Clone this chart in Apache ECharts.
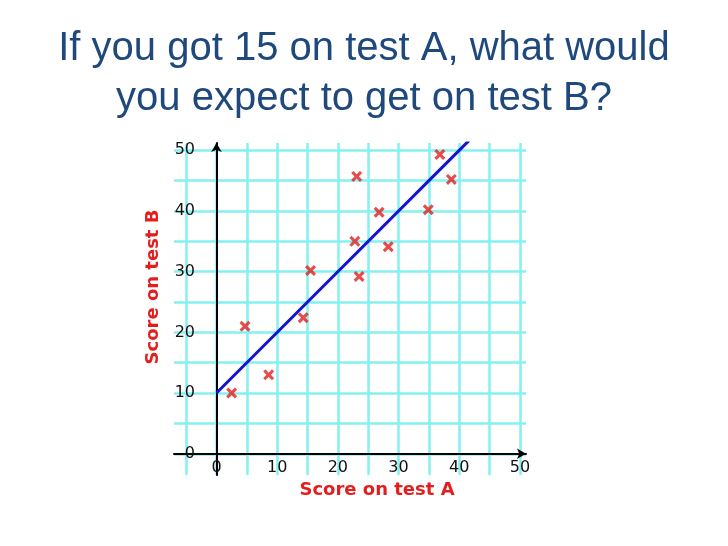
<!DOCTYPE html>
<html>
<head>
<meta charset="utf-8">
<script src="https://cdn.jsdelivr.net/npm/echarts@6/dist/echarts.min.js"></script>
<style>
html,body{margin:0;padding:0;background:#fff;}
#chart{width:728px;height:546px;}
</style>
</head>
<body>
<div id="chart"></div>
<script>
// Data
const scoreA = [2.5, 4.7, 8.6, 14.3, 15.5, 22.8, 23.1, 23.5, 26.8, 28.3, 34.9, 36.8, 38.7];
const scoreB = [10.0, 21.0, 13.0, 22.4, 30.2, 35.0, 45.7, 29.2, 39.8, 34.1, 40.2, 49.3, 45.2];
const fitLineA = [0, 41.6];
const fitLineB = [10, 51.6];
const tickLabels = [0, 10, 20, 30, 40, 50];
const gridX = [-5, 0, 5, 10, 15, 20, 25, 30, 35, 40, 45, 50];
const gridY = [0, 5, 10, 15, 20, 25, 30, 35, 40, 45, 50];

const points = scoreA.map((a, i) => [a, scoreB[i]]);
const fit = fitLineA.map((a, i) => [a, fitLineB[i]]);

const labelFont = 'DejaVu Sans';
const gridColor = '#84F0F0';
const redColor = '#E21E1E';

const chart = echarts.init(document.getElementById('chart'));
chart.setOption({
  animation: false,
  backgroundColor: '#ffffff',
  title: {
    text: 'If you got 15 on test A, what would\nyou expect to get on test B?',
    left: 'center',
    top: 19,
    textStyle: {
      fontFamily: 'Liberation Sans, Arial, sans-serif',
      fontSize: 40,
      fontWeight: 'normal',
      lineHeight: 50,
      color: '#1F497D',
      align: 'center'
    }
  },
  grid: { left: 174, top: 143, width: 352, height: 332 },
  xAxis: {
    type: 'value',
    min: -7, max: 51,
    z: 5,
    splitLine: { show: false },
    axisTick: { show: false },
    axisLine: { show: true, onZero: true, symbol: ['none', 'arrow'], symbolSize: [8, 9],
      lineStyle: { color: '#000', width: 2 } },
    axisLabel: { customValues: tickLabels, margin: -15, fontFamily: labelFont, fontSize: 16, color: '#111' },
    name: 'Score on test A',
    nameLocation: 'middle',
    nameGap: 6,
    nameTextStyle: { fontFamily: labelFont, fontSize: 18, fontWeight: 'bold', color: redColor, padding: [0, 0, 0, 54] }
  },
  yAxis: {
    type: 'value',
    min: -3.5, max: 51.2,
    z: 5,
    splitLine: { show: false },
    axisTick: { show: false },
    axisLine: { show: true, onZero: true, symbol: ['none', 'arrow'], symbolSize: [8, 9],
      lineStyle: { color: '#000', width: 2 } },
    axisLabel: { customValues: tickLabels, margin: -21, fontFamily: labelFont, fontSize: 16, color: '#111' },
    name: 'Score on test B',
    nameLocation: 'middle',
    nameGap: 12,
    nameTextStyle: { fontFamily: labelFont, fontSize: 18, fontWeight: 'bold', color: redColor, padding: [0, 0, 0, 44] }
  },
  series: [
    {
      type: 'line',
      data: [],
      z: 1,
      silent: true,
      markLine: {
        silent: true,
        symbol: 'none',
        label: { show: false },
        lineStyle: { color: gridColor, width: 2.5, type: 'solid' },
        data: gridX.map(v => ({ xAxis: v })).concat(gridY.map(v => ({ yAxis: v })))
      }
    },
    {
      type: 'line',
      data: fit,
      z: 8,
      symbol: 'none',
      lineStyle: { color: '#1414D2', width: 3 }
    },
    {
      type: 'scatter',
      data: points,
      z: 10,
      symbol: 'path://M0,2L2,0L5,3L8,0L10,2L7,5L10,8L8,10L5,7L2,10L0,8L3,5Z',
      symbolSize: 11,
      itemStyle: { color: redColor }
    }
  ]
});
</script>
</body>
</html>
